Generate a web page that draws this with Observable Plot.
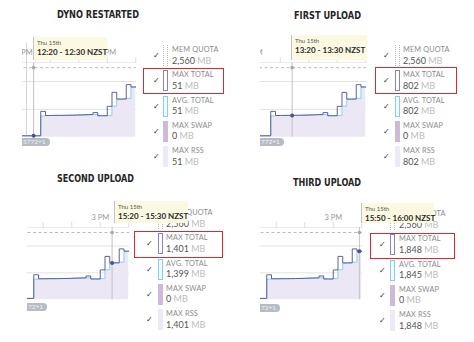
<!DOCTYPE html>
<html><head><meta charset="utf-8">
<script src="https://cdn.jsdelivr.net/npm/d3@7"></script>
<script src="https://cdn.jsdelivr.net/npm/@observablehq/plot@0.6"></script>
<style>
html,body{margin:0;padding:0;background:#fff;overflow:hidden;}
#root{position:relative;width:474px;height:342px;overflow:hidden;font-family:Lato,"Open Sans",sans-serif;background:#fff;}
.crop{position:absolute;overflow:hidden;}
.crop svg{position:absolute;max-width:none !important;background:transparent !important;}
.tip{position:absolute;background:rgba(252,249,225,0.93);border-left:1px solid #c4c4c4;box-sizing:border-box;padding:2px 0 0 3px;z-index:5;}
.tip .d{font-size:6px;color:#555;line-height:8px;}
.tip .t{font-size:8px;font-weight:bold;color:#2a2a2a;line-height:11px;white-space:nowrap;}
.pill{position:absolute;height:8px;line-height:8px;font-size:6.5px;color:#f2f3f7;background:#b7bbc3;border-radius:4px;padding:0 4px 0 7px;white-space:nowrap;}
.lg{position:absolute;white-space:nowrap;}
.lab{font-size:7.3px;color:#8d8d8d;letter-spacing:0.15px;}
.val{font-size:9px;color:#555;}
.val span{color:#bdbdbd;}
.chk{font-size:8px;color:#333;font-family:"DejaVu Sans",sans-serif;}
.sw{position:absolute;box-sizing:border-box;width:5px;}
.red{position:absolute;border:1.5px solid #e1262c;box-sizing:border-box;}
#titles{position:absolute;left:0;top:0;z-index:10;}
</style>
</head><body><div id="root"></div>
<script>
// ---- data ----
const bucketTimes = ["11:30","11:40","11:50","12:00","12:10","12:20","12:30","12:40","12:50","13:00","13:10","13:20","13:30","13:40","13:50","14:00","14:10","14:20","14:30","14:40","14:50","15:00","15:10","15:20","15:30","15:40","15:50"];
const maxTotal = [51,51,51,51,51,51,51,950,798,800,802,802,805,808,812,818,825,830,905,790,790,1135,1650,1401,1405,1935,1848];
const avgTotal = [51,51,51,51,51,51,51,780,796,799,801,802,804,807,811,817,823,829,835,788,789,800,1140,1399,1402,1430,1845];
const endTime = "16:00";
const memQuota = 2560;
const gridValues = [1024, 2048];
const yMax = 2750;
const restartTime = "12:10";
const tickTimes = ["12:00","13:00","14:00","15:00","16:00"];
const tickLabels = ["12 PM","","","3 PM",""];
const panelTitles = ["DYNO RESTARTED","FIRST UPLOAD","SECOND UPLOAD","THIRD UPLOAD"];
const hoverStarts = ["12:20","13:20","15:20","15:50"];
const hoverLabels = ["12:20 - 12:30 NZST","13:20 - 13:30 NZST","15:20 - 15:30 NZST","15:50 - 16:00 NZST"];
const tooltipDay = "Thu 15th";
const legendNames = ["MEM QUOTA","MAX TOTAL","AVG. TOTAL","MAX SWAP","MAX RSS"];
const legendValues = [[2560,51,51,0,51],[2560,802,802,0,802],[2560,1401,1399,0,1401],[2560,1848,1845,0,1848]];
const unit = "MB";
const hostLabels = ["5772+1","772+1","72+1","72+1"];

// ---- layout ----
const pxPerHour = 28.5;
const layout = [
 {x12:21, y0:137, ky:27.8, crop:[22,38,116,111], pillY:138, tip:[33,37,74,23], lg:{cx:157,sx:163,tx:172,y:50}, red:[143,68,81,26], title:[57,18.3,82]},
 {x12:251, y0:136.5, ky:27.8, crop:[260,38,112,111], pillY:138, tip:[291,35,76,25], lg:{cx:387,sx:395,tx:403,y:50}, red:[375,67,82,27], title:[294,19.3,67]},
 {x12:14.5, y0:299, ky:26.9, crop:[27,203,106,110], pillY:303, tip:[114,201,74,22], lg:{cx:150,sx:158,tx:166,y:213}, red:[134,231,89,27], title:[57,181.7,77]},
 {x12:247.5, y0:299, ky:26.9, crop:[260,203,105,110], pillY:304, tip:[361,203,73,20], lg:{cx:383,sx:390,tx:399,y:214}, red:[370,233,85,26], title:[293,186,68]}
];
const rowStep = 25.3;

const parse = s => { const [h,m] = s.split(":").map(Number); return new Date(2024,1,15,h,m); };
const series = bucketTimes.map((s,i) => ({t: parse(s), max: maxTotal[i], avg: avgTotal[i]}));
series.push({t: parse(endTime), max: maxTotal[maxTotal.length-1], avg: avgTotal[avgTotal.length-1]});
const labelMap = new Map(tickTimes.map((s,i) => [+parse(s), tickLabels[i]]));
const fmt = d3.format(",");

const root = d3.select("#root");
const t0 = parse(bucketTimes[0]), t1 = parse(endTime);
const xW = (t1 - t0) / 3600000 * pxPerHour;
const mt = 22;

layout.forEach((L, p) => {
  const plotH = yMax / 1024 * L.ky;
  const height = mt + plotH + 3;
  const hoverT = new Date(+parse(hoverStarts[p]) + 5*60000);
  const hoverV = maxTotal[bucketTimes.indexOf(hoverStarts[p])];
  const chart = Plot.plot({
    width: Math.ceil(xW) + 2, height,
    marginTop: mt, marginLeft: 0, marginRight: 2, marginBottom: 3,
    x: {type: "time", domain: [t0, t1], range: [0, xW], label: null},
    y: {domain: [0, yMax], range: [mt + plotH, mt], axis: null, label: null},
    style: {fontFamily: "Lato, sans-serif", fontSize: "7.5px", color: "#9a9a9a", background: "transparent", overflow: "visible"},
    marks: [
      Plot.ruleY(gridValues, {stroke: "#e3e3e3"}),
      Plot.ruleY([yMax], {stroke: "#ececec"}),
      Plot.areaY(series, {x: "t", y: "avg", curve: "step-after", fill: "#ece7f4"}),
      Plot.ruleX([parse(restartTime)], {y1: 0, y2: 3460, stroke: "#d6d6d6"}),
      Plot.line(series, {x: "t", y: "avg", curve: "step-after", stroke: "#8fd2ee", strokeWidth: 1}),
      Plot.line(series, {x: "t", y: "max", curve: "step-after", stroke: "#5e6199", strokeWidth: 1}),
      Plot.ruleY([memQuota], {stroke: "#bcbcbc", strokeDasharray: "3,2.5"}),
      Plot.ruleX([hoverT], {y1: 0, y2: yMax, stroke: "#c2c2c2"}),
      Plot.dot([{t: hoverT, v: memQuota}], {x: "t", y: "v", r: 1.8, fill: "#a8a8a8"}),
      Plot.dot([{t: hoverT, v: hoverV}], {x: "t", y: "v", r: 2, fill: "#4f5289"}),
      Plot.axisX(tickTimes.map(parse), {anchor: "top", label: null, tickSize: 6, tickPadding: 1.5, tickFormat: d => labelMap.get(+d) || "", stroke: "#dedede", fill: "#9a9a9a", fontSize: 7.5})
    ]
  });
  const [cl, ct, cw, ch] = L.crop;
  const crop = root.append("div").attr("class","crop")
    .style("left", cl+"px").style("top", ct+"px").style("width", cw+"px").style("height", ch+"px");
  const svgLeft = L.x12 - (parse("12:00") - t0)/3600000*pxPerHour;
  const svgTop = L.y0 - mt - plotH;
  d3.select(chart).style("left", (svgLeft - cl)+"px").style("top", (svgTop - ct)+"px");
  crop.node().appendChild(chart);
  crop.append("div").attr("class","pill").style("left","-6px").style("top",(L.pillY - ct)+"px").text(hostLabels[p]);

  const g = L.lg;
  legendNames.forEach((name, i) => {
    const y = g.y + i*rowStep;
    root.append("div").attr("class","lg chk").style("left",(g.cx-4)+"px").style("top",(y+1)+"px").text("✓");
    const sw = root.append("div").attr("class","sw").style("left",g.sx+"px").style("top",(y-5)+"px").style("height","21px");
    if (i===0) sw.style("border","1px dotted #b9b9b9").style("border-top","none").style("border-bottom","none");
    if (i===1) sw.style("border","1px solid #8884b4").style("background","#fff");
    if (i===2) sw.style("border","1px solid #85cfee").style("background","#f2fafd");
    if (i===3) sw.style("background","#cdb9d9");
    if (i===4) sw.style("background","#eeeaf5");
    root.append("div").attr("class","lg lab").style("left",g.tx+"px").style("top",(y-5)+"px").text(name);
    const v = root.append("div").attr("class","lg val").style("left",g.tx+"px").style("top",(y+4.5)+"px");
    v.append("tspan").text(fmt(legendValues[p][i]) + " ");
    v.append("span").text(unit);
  });
  const [rx, ry, rw, rh] = L.red;
  root.append("div").attr("class","red").style("left",rx+"px").style("top",ry+"px").style("width",rw+"px").style("height",rh+"px");

  const [tx, ty, tw, th] = L.tip;
  const tip = root.append("div").attr("class","tip").style("left",tx+"px").style("top",ty+"px").style("width",tw+"px").style("height",th+"px");
  tip.append("div").attr("class","d").text(tooltipDay);
  tip.append("div").attr("class","t").text(hoverLabels[p]);
});

const ts = root.append("svg").attr("id","titles").attr("width",474).attr("height",342);
layout.forEach((L,p) => {
  const [x, y, w] = L.title;
  ts.append("text").attr("x",x).attr("y",y).attr("textLength",w).attr("lengthAdjust","spacingAndGlyphs")
    .attr("font-family","'DejaVu Sans Condensed','DejaVu Sans',sans-serif").attr("font-weight","bold")
    .attr("font-size",11).attr("fill","#262626").text(panelTitles[p]);
});
</script></body></html>
